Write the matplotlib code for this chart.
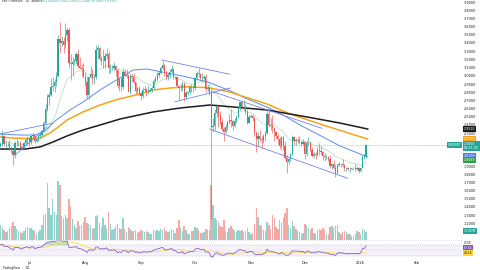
import matplotlib
matplotlib.use("Agg")
import matplotlib.pyplot as plt
import numpy as np
import pandas as pd
from matplotlib.transforms import blended_transform_factory

# ---------------- data (XRP / TetherUS, 1D) ----------------
start_date = "2025-06-15"   # first candle; x positions are days from 2025-07-01

opens = [2.15,2.17,2.26,2.17,2.17,2.17,2.12,2.08,2.03,2.18,2.18,2.18,2.12,2.13,2.18,2.22,
         2.24,2.19,2.27,2.28,2.21,2.23,2.27,2.28,2.33,2.42,2.60,2.74,2.77,2.86,2.87,2.93,3.00,3.45,3.40,3.42,3.38,3.50,3.56,3.15,3.14,3.17,3.18,3.27,3.12,3.10,3.08,
         2.99,2.93,2.77,2.99,3.02,2.97,2.99,3.32,3.34,3.20,3.18,3.18,3.24,3.27,3.09,3.09,3.10,3.12,3.07,2.87,2.96,2.86,3.05,3.00,3.00,2.80,3.00,2.98,2.93,2.82,2.85,
         2.78,2.75,2.83,2.84,2.80,2.82,2.83,2.85,2.94,2.96,3.01,3.04,3.09,3.13,3.03,2.99,3.01,3.05,3.08,2.98,2.98,2.88,2.85,2.85,2.90,2.74,2.79,2.80,2.86,2.86,
         2.85,2.97,3.03,3.02,2.97,2.97,2.99,2.84,2.85,2.79,2.37,2.39,2.55,2.63,2.52,2.44,2.35,2.32,2.38,2.44,2.46,2.45,2.39,2.45,2.50,2.61,2.68,2.62,2.62,2.56,2.43,
         2.50,2.51,2.49,2.30,2.23,2.26,2.23,2.22,2.27,2.30,2.54,2.40,2.39,2.36,2.32,2.27,2.23,2.15,2.25,2.14,2.00,1.95,1.98,2.05,2.25,2.20,2.22,2.21,2.19,2.17,
         2.19,2.05,2.18,2.18,2.10,2.02,2.05,2.03,2.10,2.08,2.07,2.02,2.01,2.01,1.98,1.90,1.92,1.88,1.81,1.91,1.93,1.92,1.91,1.87,1.87,1.86,1.86,1.87,1.87,1.86,1.87,
         1.84,1.88,2.01,2.02]
highs = [2.19,2.34,2.28,2.20,2.19,2.22,2.14,2.10,2.20,2.23,2.21,2.20,2.15,2.19,2.24,2.26,
         2.24,2.28,2.31,2.28,2.24,2.28,2.31,2.34,2.45,2.66,2.78,2.80,2.97,2.99,2.96,3.05,3.50,3.66,3.49,3.47,3.64,3.60,3.58,3.26,3.23,3.21,3.29,3.33,3.23,3.15,3.16,
         3.05,3.00,3.00,3.12,3.08,3.02,3.38,3.38,3.35,3.24,3.33,3.28,3.34,3.30,3.15,3.13,3.17,3.13,3.08,2.99,2.98,3.10,3.08,3.08,3.02,3.02,3.02,3.04,2.93,2.86,2.87,
         2.80,2.86,2.88,2.85,2.89,2.85,2.87,2.96,3.00,3.05,3.06,3.12,3.18,3.14,3.07,3.03,3.08,3.13,3.09,3.00,2.99,2.89,2.90,2.94,2.92,2.82,2.82,2.87,2.90,2.88,
         2.99,3.06,3.10,3.03,3.03,3.01,3.02,2.90,2.86,2.84,2.49,2.59,2.66,2.63,2.57,2.48,2.38,2.41,2.46,2.53,2.59,2.46,2.48,2.52,2.63,2.68,2.71,2.70,2.66,2.60,2.52,
         2.53,2.53,2.50,2.33,2.32,2.34,2.27,2.29,2.33,2.58,2.58,2.48,2.52,2.38,2.33,2.30,2.25,2.27,2.26,2.20,2.03,2.00,2.06,2.28,2.26,2.24,2.25,2.26,2.20,2.23,
         2.21,2.20,2.25,2.21,2.13,2.07,2.07,2.13,2.18,2.14,2.08,2.06,2.03,2.02,2.03,1.94,1.97,1.93,1.93,1.95,1.94,1.98,1.92,1.89,1.89,1.89,1.88,1.89,1.93,1.90,1.89,
         1.89,2.03,2.05,2.17]
lows = [2.13,2.15,2.15,2.12,2.14,2.10,2.06,1.91,2.00,2.15,2.14,2.10,2.09,2.12,2.16,2.17,
        2.15,2.17,2.23,2.18,2.19,2.21,2.24,2.26,2.31,2.40,2.57,2.64,2.75,2.81,2.80,2.88,2.99,3.28,3.36,3.28,3.34,3.42,3.10,2.95,3.00,3.13,3.14,3.09,3.08,3.00,2.97,
        2.87,2.73,2.72,2.97,2.90,2.90,2.96,3.20,3.19,3.13,3.10,3.10,3.20,3.03,3.03,3.07,3.07,3.00,2.85,2.82,2.82,2.84,2.98,2.97,2.80,2.78,2.93,2.90,2.78,2.79,2.76,
        2.70,2.73,2.80,2.75,2.78,2.80,2.80,2.84,2.92,2.94,2.98,3.02,3.07,3.00,2.95,2.95,2.97,3.03,2.96,2.96,2.87,2.70,2.81,2.82,2.69,2.72,2.77,2.78,2.80,2.80,
        2.83,2.95,2.98,2.95,2.93,2.95,2.80,2.81,2.76,1.25,2.31,2.34,2.50,2.37,2.40,2.33,2.20,2.30,2.34,2.41,2.37,2.34,2.37,2.42,2.49,2.58,2.59,2.58,2.54,2.41,2.42,
        2.48,2.45,2.26,2.07,2.15,2.19,2.12,2.18,2.21,2.29,2.37,2.34,2.30,2.20,2.24,2.17,2.12,2.10,2.10,1.98,1.82,1.92,1.96,2.04,2.16,2.16,2.18,2.17,2.15,2.16,
        1.99,2.02,2.15,2.08,2.01,2.00,1.98,2.02,2.04,2.04,1.97,1.96,1.99,1.96,1.88,1.86,1.86,1.77,1.80,1.90,1.89,1.89,1.84,1.84,1.85,1.83,1.85,1.86,1.84,1.85,1.82,
        1.83,1.87,1.98,2.00]
closes = [2.17,2.26,2.17,2.17,2.17,2.12,2.08,2.03,2.18,2.18,2.18,2.12,2.13,2.18,2.22,2.24,
          2.19,2.27,2.28,2.21,2.23,2.27,2.28,2.33,2.42,2.60,2.74,2.77,2.86,2.87,2.93,3.00,3.45,3.40,3.42,3.38,3.50,3.56,3.15,3.14,3.17,3.18,3.27,3.12,3.10,3.08,2.99,
          2.93,2.77,2.99,3.02,2.97,2.99,3.32,3.34,3.20,3.18,3.18,3.24,3.27,3.09,3.09,3.10,3.12,3.07,2.87,2.96,2.86,3.05,3.00,3.00,2.80,3.00,2.98,2.93,2.82,2.85,2.78,
          2.75,2.83,2.84,2.80,2.82,2.83,2.85,2.94,2.96,3.01,3.04,3.09,3.13,3.03,2.99,3.01,3.05,3.08,2.98,2.98,2.88,2.85,2.85,2.90,2.74,2.79,2.80,2.86,2.86,2.85,
          2.97,3.03,3.02,2.97,2.97,2.99,2.84,2.85,2.79,2.37,2.39,2.55,2.63,2.52,2.44,2.35,2.32,2.38,2.44,2.46,2.45,2.39,2.45,2.50,2.61,2.68,2.62,2.62,2.56,2.43,2.50,
          2.51,2.49,2.30,2.23,2.26,2.23,2.22,2.27,2.30,2.54,2.40,2.39,2.36,2.32,2.27,2.23,2.15,2.25,2.14,2.00,1.95,1.98,2.05,2.25,2.20,2.22,2.21,2.19,2.17,2.19,
          2.05,2.18,2.18,2.10,2.02,2.05,2.03,2.10,2.08,2.07,2.02,2.01,2.01,1.98,1.90,1.92,1.88,1.81,1.91,1.93,1.92,1.91,1.87,1.87,1.86,1.86,1.87,1.87,1.86,1.87,1.84,
          1.88,2.01,2.02,2.16]
volumes_m = [150,130,100,80,90,120,140,180,140,110,90,80,70,90,120,130,
             120,120,100,90,60,80,100,150,250,260,570,320,250,410,280,250,590,550,240,220,250,220,410,340,210,150,120,190,140,150,180,
             230,170,160,150,110,120,240,250,170,130,220,150,120,280,160,100,110,140,160,120,110,220,110,80,130,110,90,90,100,70,80,
             100,90,80,90,80,60,60,100,90,100,90,110,100,120,90,80,90,110,100,70,120,200,120,90,140,100,60,60,90,90,
             130,120,100,70,70,80,110,100,100,550,350,220,200,180,140,130,200,90,80,120,140,110,90,80,100,90,100,80,90,120,80,
             60,70,160,320,230,150,140,100,90,180,150,110,250,220,130,110,200,170,220,270,320,150,120,190,140,110,90,80,60,70,
             160,150,120,100,120,70,60,100,110,100,120,100,60,60,130,140,120,140,150,80,60,80,90,80,60,60,40,40,60,90,80,
             60,110,100,75]
# closes of 2025-06-01 .. 06-14, used only to warm up EMA20 / RSI
warmup_closes = [2.19,2.25,2.24,2.22,2.15,2.17,2.19,2.27,2.31,2.31,2.27,2.18,2.14,2.15]

# longer moving averages (day offset from 2025-07-01, value)
ema50_days = [-16.3,-5.2,3.2,8.7,14.3,22.6,29.8,39.3,46.5,53.2,57.6,65.4,76.5,87.6,99.2,113.1,119.8,132,140.9,150.3,163.1,172.5,187.9]
ema50_vals = [2.29,2.278,2.278,2.327,2.449,2.583,2.680,2.827,2.924,3.010,3.071,3.083,3.034,2.985,2.924,2.802,2.729,2.619,2.522,2.40,2.254,2.144,2.01]
ema100_days = [-16.3,-9.1,-1.3,5.9,11.5,15.4,20.9,29.8,39.3,48.7,61.5,68.7,78.1,87.5,99.2,111.4,119.8,132,144.8,163.1,175.3,187.9]
ema100_vals = [2.254,2.241,2.235,2.241,2.302,2.363,2.461,2.559,2.644,2.711,2.778,2.827,2.851,2.867,2.855,2.802,2.741,2.656,2.534,2.40,2.315,2.229]
ema200_days = [-16.3,-2.4,5.9,13.2,20.9,29.8,39.3,50.4,68.7,83.7,100.3,119.8,132,154.2,172.5,187.9]
ema200_vals = [2.107,2.107,2.132,2.193,2.266,2.339,2.400,2.473,2.559,2.607,2.644,2.607,2.583,2.498,2.424,2.351]

# user-drawn trend lines: (day0, price0, day1, price1)
trend_lines = [(-16.3, 2.29, 12.6, 2.42),
               (-7.9, 2.034, 9.8, 2.376),
               (73.5, 3.193, 111.4, 3.019),
               (80.9, 2.684, 111.7, 2.851),
               (102.0, 2.806, 162.5, 2.360),
               (100.3, 2.348, 176.8, 1.75)]

month_days = [0, 31, 62, 92, 123, 153, 184, 215]
month_labels = ["Jul", "Aug", "Sep", "Oct", "Nov", "Dec", "2026", "Feb"]

# ---------------- derived ----------------
o = np.array(opens); h = np.array(highs); l = np.array(lows); c = np.array(closes)
v = np.array(volumes_m, dtype=float)
dates = pd.date_range(start_date, periods=len(c), freq="D")
x = np.array((dates - pd.Timestamp("2025-07-01")).days, dtype=float)
up = c >= o

allc = pd.Series(warmup_closes + closes)
ema20 = allc.ewm(span=20, adjust=False).mean().values[len(warmup_closes):]
delta = allc.diff()
gain = delta.clip(lower=0); loss = -delta.clip(upper=0)
ag = gain.ewm(alpha=1/14, adjust=False).mean(); al = loss.ewm(alpha=1/14, adjust=False).mean()
rsi_all = 100 - 100 / (1 + ag / al)
rsi = rsi_all.values[len(warmup_closes):]
rsi_ma = pd.Series(rsi).rolling(14, min_periods=1).mean().values

# ---------------- figure ----------------
W, H = 480, 270
fig = plt.figure(figsize=(4.8, 2.7), dpi=100)
fig.patch.set_facecolor("white")
def fy(py): return 1 - py / H

main_bottom = 239.5
plot_right = 462
ax = fig.add_axes([0, fy(main_bottom), plot_right / W, main_bottom / H])
axr = fig.add_axes([0, fy(258), plot_right / W, (258 - main_bottom) / H], sharex=ax)

xmin = (0 - 29.3) / 1.801
xmax = (plot_right - 29.3) / 1.801
ax.set_xlim(xmin, xmax)
ax.set_ylim(3.9 - 237.5 / 82, 3.9 + 2 / 82)
def py2price(py):   # layout helper: pixel row -> price-axis position
    return 3.9 - (py - 2) / 82

UP = "#26a69a"; DN = "#ef5350"
# volume overlay
axv = ax.twinx()
axv.set_ylim(0, 2395)
axv.bar(x, v, width=0.8, color=np.where(up, "#26a69a", "#ef5350"), alpha=0.5, linewidth=0)
axv.axis("off")
ax.set_zorder(axv.get_zorder() + 1)
ax.patch.set_visible(False)

# candles
cols = np.where(up, UP, DN)
ax.vlines(x, l, h, colors=cols, linewidth=0.45, zorder=3)
body_lo = np.minimum(o, c); body_h = np.maximum(np.abs(c - o), 0.004)
ax.bar(x, body_h, bottom=body_lo, width=0.7, color=cols, linewidth=0, zorder=4)

# moving averages
ax.plot(x, ema20, color="#b5dcb6", lw=0.5, zorder=2)
ax.plot(ema50_days, ema50_vals, color="#5b8def", lw=0.7, zorder=2)
ax.plot(ema100_days, ema100_vals, color="#f7a21b", lw=1.1, zorder=2)
ax.plot(ema200_days, ema200_vals, color="#1c1c1c", lw=1.1, zorder=2)

for d0, p0, d1, p1 in trend_lines:
    ax.plot([d0, d1], [p0, p1], color="#6f86f0", lw=0.6, zorder=5)

# last price line
ax.axhline(c[-1], color=UP, lw=0.4, ls=(0, (1, 1.5)), zorder=1)

# price scale
ticks = [round(3.9 - 0.1 * k, 1) for k in range(17)] + [1.9, 1.8, 1.7, 1.6, 1.5, 1.4, 1.3, 1.2]
ax.yaxis.tick_right()
ax.set_yticks(ticks)
ax.set_yticklabels([f"{t:.4f}" for t in ticks])
ax.tick_params(axis="y", length=0, labelsize=2.5, pad=1.4, colors="#131722")
ax.tick_params(axis="x", bottom=False, labelbottom=False)
for s in ax.spines.values():
    s.set_visible(False)

tr = blended_transform_factory(ax.transAxes, ax.transData)
def tag(py, txt, fc, tc="white"):
    ax.text(1.004, py2price(py), txt, transform=tr, fontsize=2.3, color=tc, va="center", ha="left",
            bbox=dict(boxstyle="square,pad=0.3", fc=fc, ec="none"), clip_on=False, zorder=10)
tag(129.0, f"{ema200_vals[-1]:.4f}", "#1c1c1c")
tag(139.3, f"{ema100_vals[-1]:.4f}", "#f7a21b")
tag(146.2, f"{c[-1]:.4f}\n04:31:20", UP)
tag(155.6, f"{ema50_vals[-1]:.4f}", "#4a7de8")
tag(159.8, f"{ema20[-1]:.4f}", "#2e9e45")
ax.text(0.999, py2price(144.7), "XRPUSDT", transform=tr, fontsize=2.1, color="white", va="center", ha="right",
        bbox=dict(boxstyle="square,pad=0.3", fc=UP, ec="none"), zorder=10)
tag(231.0, f"{v[-1]:.2f}M", UP)

# header
fig.text(0.004, fy(1.2), "XRP / TetherUS · 1D · Binance", fontsize=2.0, color="#131722", va="center")
fig.text(0.09, fy(1.2), f"O{o[-1]:.4f} H{h[-1]:.4f} L{l[-1]:.4f} C{c[-1]:.4f} +{c[-1]-o[-1]:.4f} (+{(c[-1]/o[-1]-1)*100:.2f}%)",
         fontsize=2.0, color=UP, va="center")

# ---------------- RSI pane ----------------
axr.set_ylim(21, 92)
axr.axhspan(30, 70, color="#7e57c2", alpha=0.08, lw=0)
for lev, st in ((70, (0, (2, 2))), (30, (0, (2, 2))), (50, (0, (1, 2)))):
    axr.axhline(lev, color="#9598a1", lw=0.35, ls=st, alpha=0.8 if lev != 50 else 0.4)
axr.fill_between(x, rsi, 70, where=rsi > 70, color="#4caf50", alpha=0.35, lw=0, interpolate=True)
axr.fill_between(x, rsi, 30, where=rsi < 30, color="#ef5350", alpha=0.3, lw=0, interpolate=True)
axr.plot(x, rsi_ma, color="#fdd835", lw=0.5)
axr.plot(x, rsi, color="#7e57c2", lw=0.55)
axr.set_yticks([])
for s in axr.spines.values():
    s.set_visible(False)
axr.spines["top"].set_visible(True)
axr.spines["top"].set_color("#e0e3eb"); axr.spines["top"].set_linewidth(0.4)
axr.set_xticks(month_days)
axr.set_xticklabels(month_labels)
axr.tick_params(axis="x", length=0, labelsize=2.5, pad=2.2, colors="#131722")
def rsi_pos(py):   # layout helper: pixel row -> RSI-axis position
    return 92 - (py - 239.5) / 0.2606
rtr = blended_transform_factory(axr.transAxes, axr.transData)
axr.text(1.004, rsi_pos(242.6), "70.00", transform=rtr, fontsize=2.0, color="#131722", va="center", ha="left", clip_on=False)
axr.text(1.004, rsi_pos(247.6), f"{rsi[-1]:.2f}", transform=rtr, fontsize=2.2, color="white", va="center", ha="left",
         bbox=dict(boxstyle="square,pad=0.3", fc="#7e57c2", ec="none"), clip_on=False)
axr.text(1.004, rsi_pos(252.6), f"{rsi_ma[-1]:.2f}", transform=rtr, fontsize=2.2, color="#131722", va="center", ha="left",
         bbox=dict(boxstyle="square,pad=0.3", fc="#fdd835", ec="none"), clip_on=False)

fig.text(0.004, fy(267.5), "TradingView  ·  1D", fontsize=2.2, color="#131722", va="center")

fig.savefig("out.png", dpi=100, facecolor="white")
